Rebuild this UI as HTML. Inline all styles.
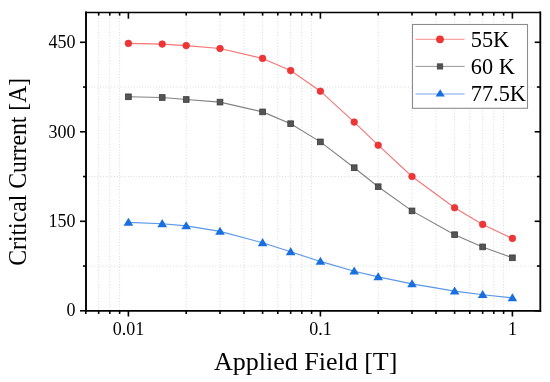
<!DOCTYPE html>
<html><head><meta charset="utf-8"><style>
html,body{margin:0;padding:0;background:#fff;width:550px;height:382px;overflow:hidden}
svg{display:block}
</style></head><body>
<svg width="550" height="382" viewBox="0 0 550 382">
<rect width="550" height="382" fill="#fff"/>
<g stroke="#dadada" stroke-width="1" stroke-dasharray="1 1.8" fill="none">
<line x1="98.66" y1="12.4" x2="98.66" y2="310.9"/>
<line x1="109.79" y1="12.4" x2="109.79" y2="310.9"/>
<line x1="119.61" y1="12.4" x2="119.61" y2="310.9"/>
<line x1="186.20" y1="12.4" x2="186.20" y2="310.9"/>
<line x1="220.01" y1="12.4" x2="220.01" y2="310.9"/>
<line x1="244.00" y1="12.4" x2="244.00" y2="310.9"/>
<line x1="262.60" y1="12.4" x2="262.60" y2="310.9"/>
<line x1="277.81" y1="12.4" x2="277.81" y2="310.9"/>
<line x1="290.66" y1="12.4" x2="290.66" y2="310.9"/>
<line x1="301.79" y1="12.4" x2="301.79" y2="310.9"/>
<line x1="311.61" y1="12.4" x2="311.61" y2="310.9"/>
<line x1="378.20" y1="12.4" x2="378.20" y2="310.9"/>
<line x1="412.01" y1="12.4" x2="412.01" y2="310.9"/>
<line x1="436.00" y1="12.4" x2="436.00" y2="310.9"/>
<line x1="454.60" y1="12.4" x2="454.60" y2="310.9"/>
<line x1="469.81" y1="12.4" x2="469.81" y2="310.9"/>
<line x1="482.66" y1="12.4" x2="482.66" y2="310.9"/>
<line x1="493.79" y1="12.4" x2="493.79" y2="310.9"/>
<line x1="503.61" y1="12.4" x2="503.61" y2="310.9"/>
<line x1="86.0" y1="266.05" x2="540.3" y2="266.05"/>
<line x1="86.0" y1="176.54" x2="540.3" y2="176.54"/>
<line x1="86.0" y1="87.04" x2="540.3" y2="87.04"/>
</g>
<polyline points="128.40,43.40 162.21,44.10 186.20,45.60 220.01,48.50 262.60,58.40 290.66,70.60 320.40,91.20 354.21,122.10 378.20,145.20 412.01,176.50 454.60,207.70 482.66,224.40 512.40,238.40" fill="none" stroke="#F14040" stroke-width="1.1" stroke-opacity="0.72"/>
<polyline points="128.40,96.80 162.21,97.50 186.20,99.50 220.01,102.10 262.60,111.90 290.66,123.70 320.40,141.90 354.21,167.70 378.20,186.70 412.01,210.90 454.60,234.70 482.66,246.90 512.40,257.80" fill="none" stroke="#515151" stroke-width="1.1" stroke-opacity="0.72"/>
<polyline points="128.40,222.40 162.21,223.80 186.20,225.90 220.01,231.40 262.60,242.80 290.66,251.80 320.40,261.40 354.21,271.20 378.20,276.90 412.01,283.90 454.60,291.10 482.66,294.70 512.40,297.90" fill="none" stroke="#1A6FDF" stroke-width="1.1" stroke-opacity="0.72"/>
<circle cx="128.40" cy="43.40" r="3.3" fill="#EF3636" stroke="#E52E33" stroke-width="0.7"/>
<circle cx="162.21" cy="44.10" r="3.3" fill="#EF3636" stroke="#E52E33" stroke-width="0.7"/>
<circle cx="186.20" cy="45.60" r="3.3" fill="#EF3636" stroke="#E52E33" stroke-width="0.7"/>
<circle cx="220.01" cy="48.50" r="3.3" fill="#EF3636" stroke="#E52E33" stroke-width="0.7"/>
<circle cx="262.60" cy="58.40" r="3.3" fill="#EF3636" stroke="#E52E33" stroke-width="0.7"/>
<circle cx="290.66" cy="70.60" r="3.3" fill="#EF3636" stroke="#E52E33" stroke-width="0.7"/>
<circle cx="320.40" cy="91.20" r="3.3" fill="#EF3636" stroke="#E52E33" stroke-width="0.7"/>
<circle cx="354.21" cy="122.10" r="3.3" fill="#EF3636" stroke="#E52E33" stroke-width="0.7"/>
<circle cx="378.20" cy="145.20" r="3.3" fill="#EF3636" stroke="#E52E33" stroke-width="0.7"/>
<circle cx="412.01" cy="176.50" r="3.3" fill="#EF3636" stroke="#E52E33" stroke-width="0.7"/>
<circle cx="454.60" cy="207.70" r="3.3" fill="#EF3636" stroke="#E52E33" stroke-width="0.7"/>
<circle cx="482.66" cy="224.40" r="3.3" fill="#EF3636" stroke="#E52E33" stroke-width="0.7"/>
<circle cx="512.40" cy="238.40" r="3.3" fill="#EF3636" stroke="#E52E33" stroke-width="0.7"/>
<rect x="125.55" y="93.95" width="5.7" height="5.7" fill="#555" stroke="#3a3a3a" stroke-width="0.8"/>
<rect x="159.36" y="94.65" width="5.7" height="5.7" fill="#555" stroke="#3a3a3a" stroke-width="0.8"/>
<rect x="183.35" y="96.65" width="5.7" height="5.7" fill="#555" stroke="#3a3a3a" stroke-width="0.8"/>
<rect x="217.16" y="99.25" width="5.7" height="5.7" fill="#555" stroke="#3a3a3a" stroke-width="0.8"/>
<rect x="259.75" y="109.05" width="5.7" height="5.7" fill="#555" stroke="#3a3a3a" stroke-width="0.8"/>
<rect x="287.81" y="120.85" width="5.7" height="5.7" fill="#555" stroke="#3a3a3a" stroke-width="0.8"/>
<rect x="317.55" y="139.05" width="5.7" height="5.7" fill="#555" stroke="#3a3a3a" stroke-width="0.8"/>
<rect x="351.36" y="164.85" width="5.7" height="5.7" fill="#555" stroke="#3a3a3a" stroke-width="0.8"/>
<rect x="375.35" y="183.85" width="5.7" height="5.7" fill="#555" stroke="#3a3a3a" stroke-width="0.8"/>
<rect x="409.16" y="208.05" width="5.7" height="5.7" fill="#555" stroke="#3a3a3a" stroke-width="0.8"/>
<rect x="451.75" y="231.85" width="5.7" height="5.7" fill="#555" stroke="#3a3a3a" stroke-width="0.8"/>
<rect x="479.81" y="244.05" width="5.7" height="5.7" fill="#555" stroke="#3a3a3a" stroke-width="0.8"/>
<rect x="509.55" y="254.95" width="5.7" height="5.7" fill="#555" stroke="#3a3a3a" stroke-width="0.8"/>
<polygon points="128.40,217.70 123.60,225.80 133.20,225.80" fill="#1A6FDF"/>
<polygon points="162.21,219.10 157.41,227.20 167.01,227.20" fill="#1A6FDF"/>
<polygon points="186.20,221.20 181.40,229.30 191.00,229.30" fill="#1A6FDF"/>
<polygon points="220.01,226.70 215.21,234.80 224.81,234.80" fill="#1A6FDF"/>
<polygon points="262.60,238.10 257.80,246.20 267.40,246.20" fill="#1A6FDF"/>
<polygon points="290.66,247.10 285.86,255.20 295.46,255.20" fill="#1A6FDF"/>
<polygon points="320.40,256.70 315.60,264.80 325.20,264.80" fill="#1A6FDF"/>
<polygon points="354.21,266.50 349.41,274.60 359.01,274.60" fill="#1A6FDF"/>
<polygon points="378.20,272.20 373.40,280.30 383.00,280.30" fill="#1A6FDF"/>
<polygon points="412.01,279.20 407.21,287.30 416.81,287.30" fill="#1A6FDF"/>
<polygon points="454.60,286.40 449.80,294.50 459.40,294.50" fill="#1A6FDF"/>
<polygon points="482.66,290.00 477.86,298.10 487.46,298.10" fill="#1A6FDF"/>
<polygon points="512.40,293.20 507.60,301.30 517.20,301.30" fill="#1A6FDF"/>
<g stroke="#000" stroke-linecap="square"><line x1="86.0" y1="12.4" x2="540.3" y2="12.4" stroke-width="1.5"/><line x1="86.0" y1="310.9" x2="540.3" y2="310.9" stroke-width="1.8"/><line x1="86.0" y1="12.4" x2="86.0" y2="310.9" stroke-width="1.9"/><line x1="540.3" y1="12.4" x2="540.3" y2="310.9" stroke-width="1.8"/></g>
<g stroke="#000" stroke-width="1.6">
<line x1="128.40" y1="310.90" x2="128.40" y2="316.50"/>
<line x1="128.40" y1="12.40" x2="128.40" y2="18.70"/>
<line x1="320.40" y1="310.90" x2="320.40" y2="316.50"/>
<line x1="320.40" y1="12.40" x2="320.40" y2="18.70"/>
<line x1="512.40" y1="310.90" x2="512.40" y2="316.50"/>
<line x1="512.40" y1="12.40" x2="512.40" y2="18.70"/>
<line x1="98.66" y1="310.90" x2="98.66" y2="313.90"/>
<line x1="98.66" y1="12.40" x2="98.66" y2="15.60"/>
<line x1="109.79" y1="310.90" x2="109.79" y2="313.90"/>
<line x1="109.79" y1="12.40" x2="109.79" y2="15.60"/>
<line x1="119.61" y1="310.90" x2="119.61" y2="313.90"/>
<line x1="119.61" y1="12.40" x2="119.61" y2="15.60"/>
<line x1="186.20" y1="310.90" x2="186.20" y2="313.90"/>
<line x1="186.20" y1="12.40" x2="186.20" y2="15.60"/>
<line x1="220.01" y1="310.90" x2="220.01" y2="313.90"/>
<line x1="220.01" y1="12.40" x2="220.01" y2="15.60"/>
<line x1="244.00" y1="310.90" x2="244.00" y2="313.90"/>
<line x1="244.00" y1="12.40" x2="244.00" y2="15.60"/>
<line x1="262.60" y1="310.90" x2="262.60" y2="313.90"/>
<line x1="262.60" y1="12.40" x2="262.60" y2="15.60"/>
<line x1="277.81" y1="310.90" x2="277.81" y2="313.90"/>
<line x1="277.81" y1="12.40" x2="277.81" y2="15.60"/>
<line x1="290.66" y1="310.90" x2="290.66" y2="313.90"/>
<line x1="290.66" y1="12.40" x2="290.66" y2="15.60"/>
<line x1="301.79" y1="310.90" x2="301.79" y2="313.90"/>
<line x1="301.79" y1="12.40" x2="301.79" y2="15.60"/>
<line x1="311.61" y1="310.90" x2="311.61" y2="313.90"/>
<line x1="311.61" y1="12.40" x2="311.61" y2="15.60"/>
<line x1="378.20" y1="310.90" x2="378.20" y2="313.90"/>
<line x1="378.20" y1="12.40" x2="378.20" y2="15.60"/>
<line x1="412.01" y1="310.90" x2="412.01" y2="313.90"/>
<line x1="412.01" y1="12.40" x2="412.01" y2="15.60"/>
<line x1="436.00" y1="310.90" x2="436.00" y2="313.90"/>
<line x1="436.00" y1="12.40" x2="436.00" y2="15.60"/>
<line x1="454.60" y1="310.90" x2="454.60" y2="313.90"/>
<line x1="454.60" y1="12.40" x2="454.60" y2="15.60"/>
<line x1="469.81" y1="310.90" x2="469.81" y2="313.90"/>
<line x1="469.81" y1="12.40" x2="469.81" y2="15.60"/>
<line x1="482.66" y1="310.90" x2="482.66" y2="313.90"/>
<line x1="482.66" y1="12.40" x2="482.66" y2="15.60"/>
<line x1="493.79" y1="310.90" x2="493.79" y2="313.90"/>
<line x1="493.79" y1="12.40" x2="493.79" y2="15.60"/>
<line x1="503.61" y1="310.90" x2="503.61" y2="313.90"/>
<line x1="503.61" y1="12.40" x2="503.61" y2="15.60"/>
<line x1="85.81" y1="310.90" x2="85.81" y2="313.90"/>
<line x1="85.81" y1="12.40" x2="85.81" y2="15.60"/>
<line x1="80.00" y1="310.80" x2="86.00" y2="310.80"/>
<line x1="534.70" y1="310.80" x2="540.30" y2="310.80"/>
<line x1="80.00" y1="221.30" x2="86.00" y2="221.30"/>
<line x1="534.70" y1="221.30" x2="540.30" y2="221.30"/>
<line x1="80.00" y1="131.79" x2="86.00" y2="131.79"/>
<line x1="534.70" y1="131.79" x2="540.30" y2="131.79"/>
<line x1="80.00" y1="42.29" x2="86.00" y2="42.29"/>
<line x1="534.70" y1="42.29" x2="540.30" y2="42.29"/>
<line x1="83.00" y1="266.05" x2="86.00" y2="266.05"/>
<line x1="536.90" y1="266.05" x2="540.30" y2="266.05"/>
<line x1="83.00" y1="176.54" x2="86.00" y2="176.54"/>
<line x1="536.90" y1="176.54" x2="540.30" y2="176.54"/>
<line x1="83.00" y1="87.04" x2="86.00" y2="87.04"/>
<line x1="536.90" y1="87.04" x2="540.30" y2="87.04"/>
</g>
<g font-family="Liberation Serif, serif" font-size="18" fill="#000">
<text x="128.40" y="335" text-anchor="middle">0.01</text>
<text x="320.40" y="335" text-anchor="middle">0.1</text>
<text x="512.40" y="335" text-anchor="middle">1</text>
<text x="75.5" y="316.3" text-anchor="end">0</text>
<text x="75.5" y="227.0" text-anchor="end">150</text>
<text x="75.5" y="137.6" text-anchor="end">300</text>
<text x="75.5" y="48.0" text-anchor="end">450</text>
</g>
<text x="305.7" y="369.8" text-anchor="middle" font-family="Liberation Serif, serif" font-size="26">Applied Field [T]</text>
<text transform="translate(26.2,171.8) rotate(-90) scale(0.91,1)" text-anchor="middle" font-family="Liberation Serif, serif" font-size="26">Critical Current [A]</text>
<rect x="412.5" y="24.5" width="115.0" height="83.8" fill="#fff" stroke="#8c8c8c" stroke-width="1.1"/>
<line x1="415.5" y1="39.3" x2="464.6" y2="39.3" stroke="#F14040" stroke-width="1" stroke-opacity="0.6"/>
<line x1="415.5" y1="66.4" x2="464.6" y2="66.4" stroke="#515151" stroke-width="1" stroke-opacity="0.6"/>
<line x1="415.5" y1="94.0" x2="464.6" y2="94.0" stroke="#1A6FDF" stroke-width="1" stroke-opacity="0.6"/>
<circle cx="440" cy="39.3" r="3.9" fill="#EF3636"/>
<rect x="436.9" y="63.300000000000004" width="6.2" height="6.2" fill="#515151"/>
<polygon points="440.20,89.20 435.60,96.60 444.80,96.60" fill="#1A6FDF"/>
<g font-family="Liberation Serif, serif" font-size="22.3" fill="#000">
<text x="470.8" y="47.2">55K</text>
<text x="470.8" y="74.1">60 K</text>
<text x="470.8" y="101.3">77.5K</text>
</g>
</svg>
</body></html>
